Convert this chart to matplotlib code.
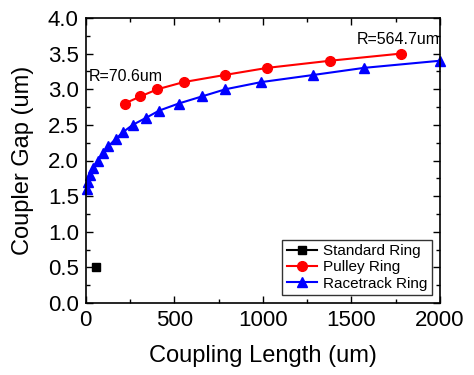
import numpy as np
import matplotlib
matplotlib.use("Agg")
from matplotlib import pyplot as plt
from matplotlib.ticker import MultipleLocator

plt.rcParams['font.family'] = ['Liberation Sans', 'DejaVu Sans']

# data
standard_len = [55]
standard_gap = [0.5]

pulley_len = [220, 309, 405, 552, 784, 1025, 1379, 1778]
pulley_gap = [2.8, 2.9, 3.0, 3.1, 3.2, 3.3, 3.4, 3.5]

race_len = [5, 12, 25, 42, 68, 97, 127, 168, 211, 265, 341, 414, 525,
            657, 789, 990, 1284, 1571, 2000]
race_gap = [1.6, 1.7, 1.8, 1.9, 2.0, 2.1, 2.2, 2.3, 2.4, 2.5, 2.6, 2.7,
            2.8, 2.9, 3.0, 3.1, 3.2, 3.3, 3.4]

fig = plt.figure(figsize=(4.74, 3.75), dpi=100)
ax = fig.add_axes([0.181, 0.192, 0.747, 0.76])

ax.plot(standard_len, standard_gap, 's-', color='black', ms=6, lw=1.5,
        label='Standard Ring', clip_on=False)
ax.plot(pulley_len, pulley_gap, 'o-', color='red', ms=7, lw=1.5,
        label='Pulley Ring', clip_on=False)
ax.plot(race_len, race_gap, '^-', color='blue', ms=7, lw=1.5,
        label='Racetrack Ring', clip_on=False)

ax.text(15, 3.18, 'R=70.6um', fontsize=11.5, ha='left', va='center')
ax.text(2000, 3.7, 'R=564.7um', fontsize=11.5, ha='right', va='center')

ax.set_xlim(0, 2000)
ax.set_ylim(0, 4.0)
ax.xaxis.set_major_locator(MultipleLocator(500))
ax.xaxis.set_minor_locator(MultipleLocator(250))
ax.yaxis.set_major_locator(MultipleLocator(0.5))
ax.yaxis.set_minor_locator(MultipleLocator(0.25))
ax.yaxis.set_major_formatter(matplotlib.ticker.FormatStrFormatter('%.1f'))
ax.tick_params(which='both', direction='in', top=True, right=True,
               labelsize=16, width=1.0)
ax.tick_params(which='major', length=5, pad=5)
ax.tick_params(which='minor', length=3)
for s in ax.spines.values():
    s.set_linewidth(1.2)

ax.set_xlabel('Coupling Length (um)', fontsize=17, labelpad=10)
ax.set_ylabel('Coupler Gap (um)', fontsize=17, labelpad=10)

ax.legend(loc='lower right', fontsize=11, frameon=True, fancybox=False,
          edgecolor='black', handlelength=2.0, borderpad=0.3,
          labelspacing=0.15, handletextpad=0.4, borderaxespad=0.5)

fig.savefig('out.png', dpi=100)
